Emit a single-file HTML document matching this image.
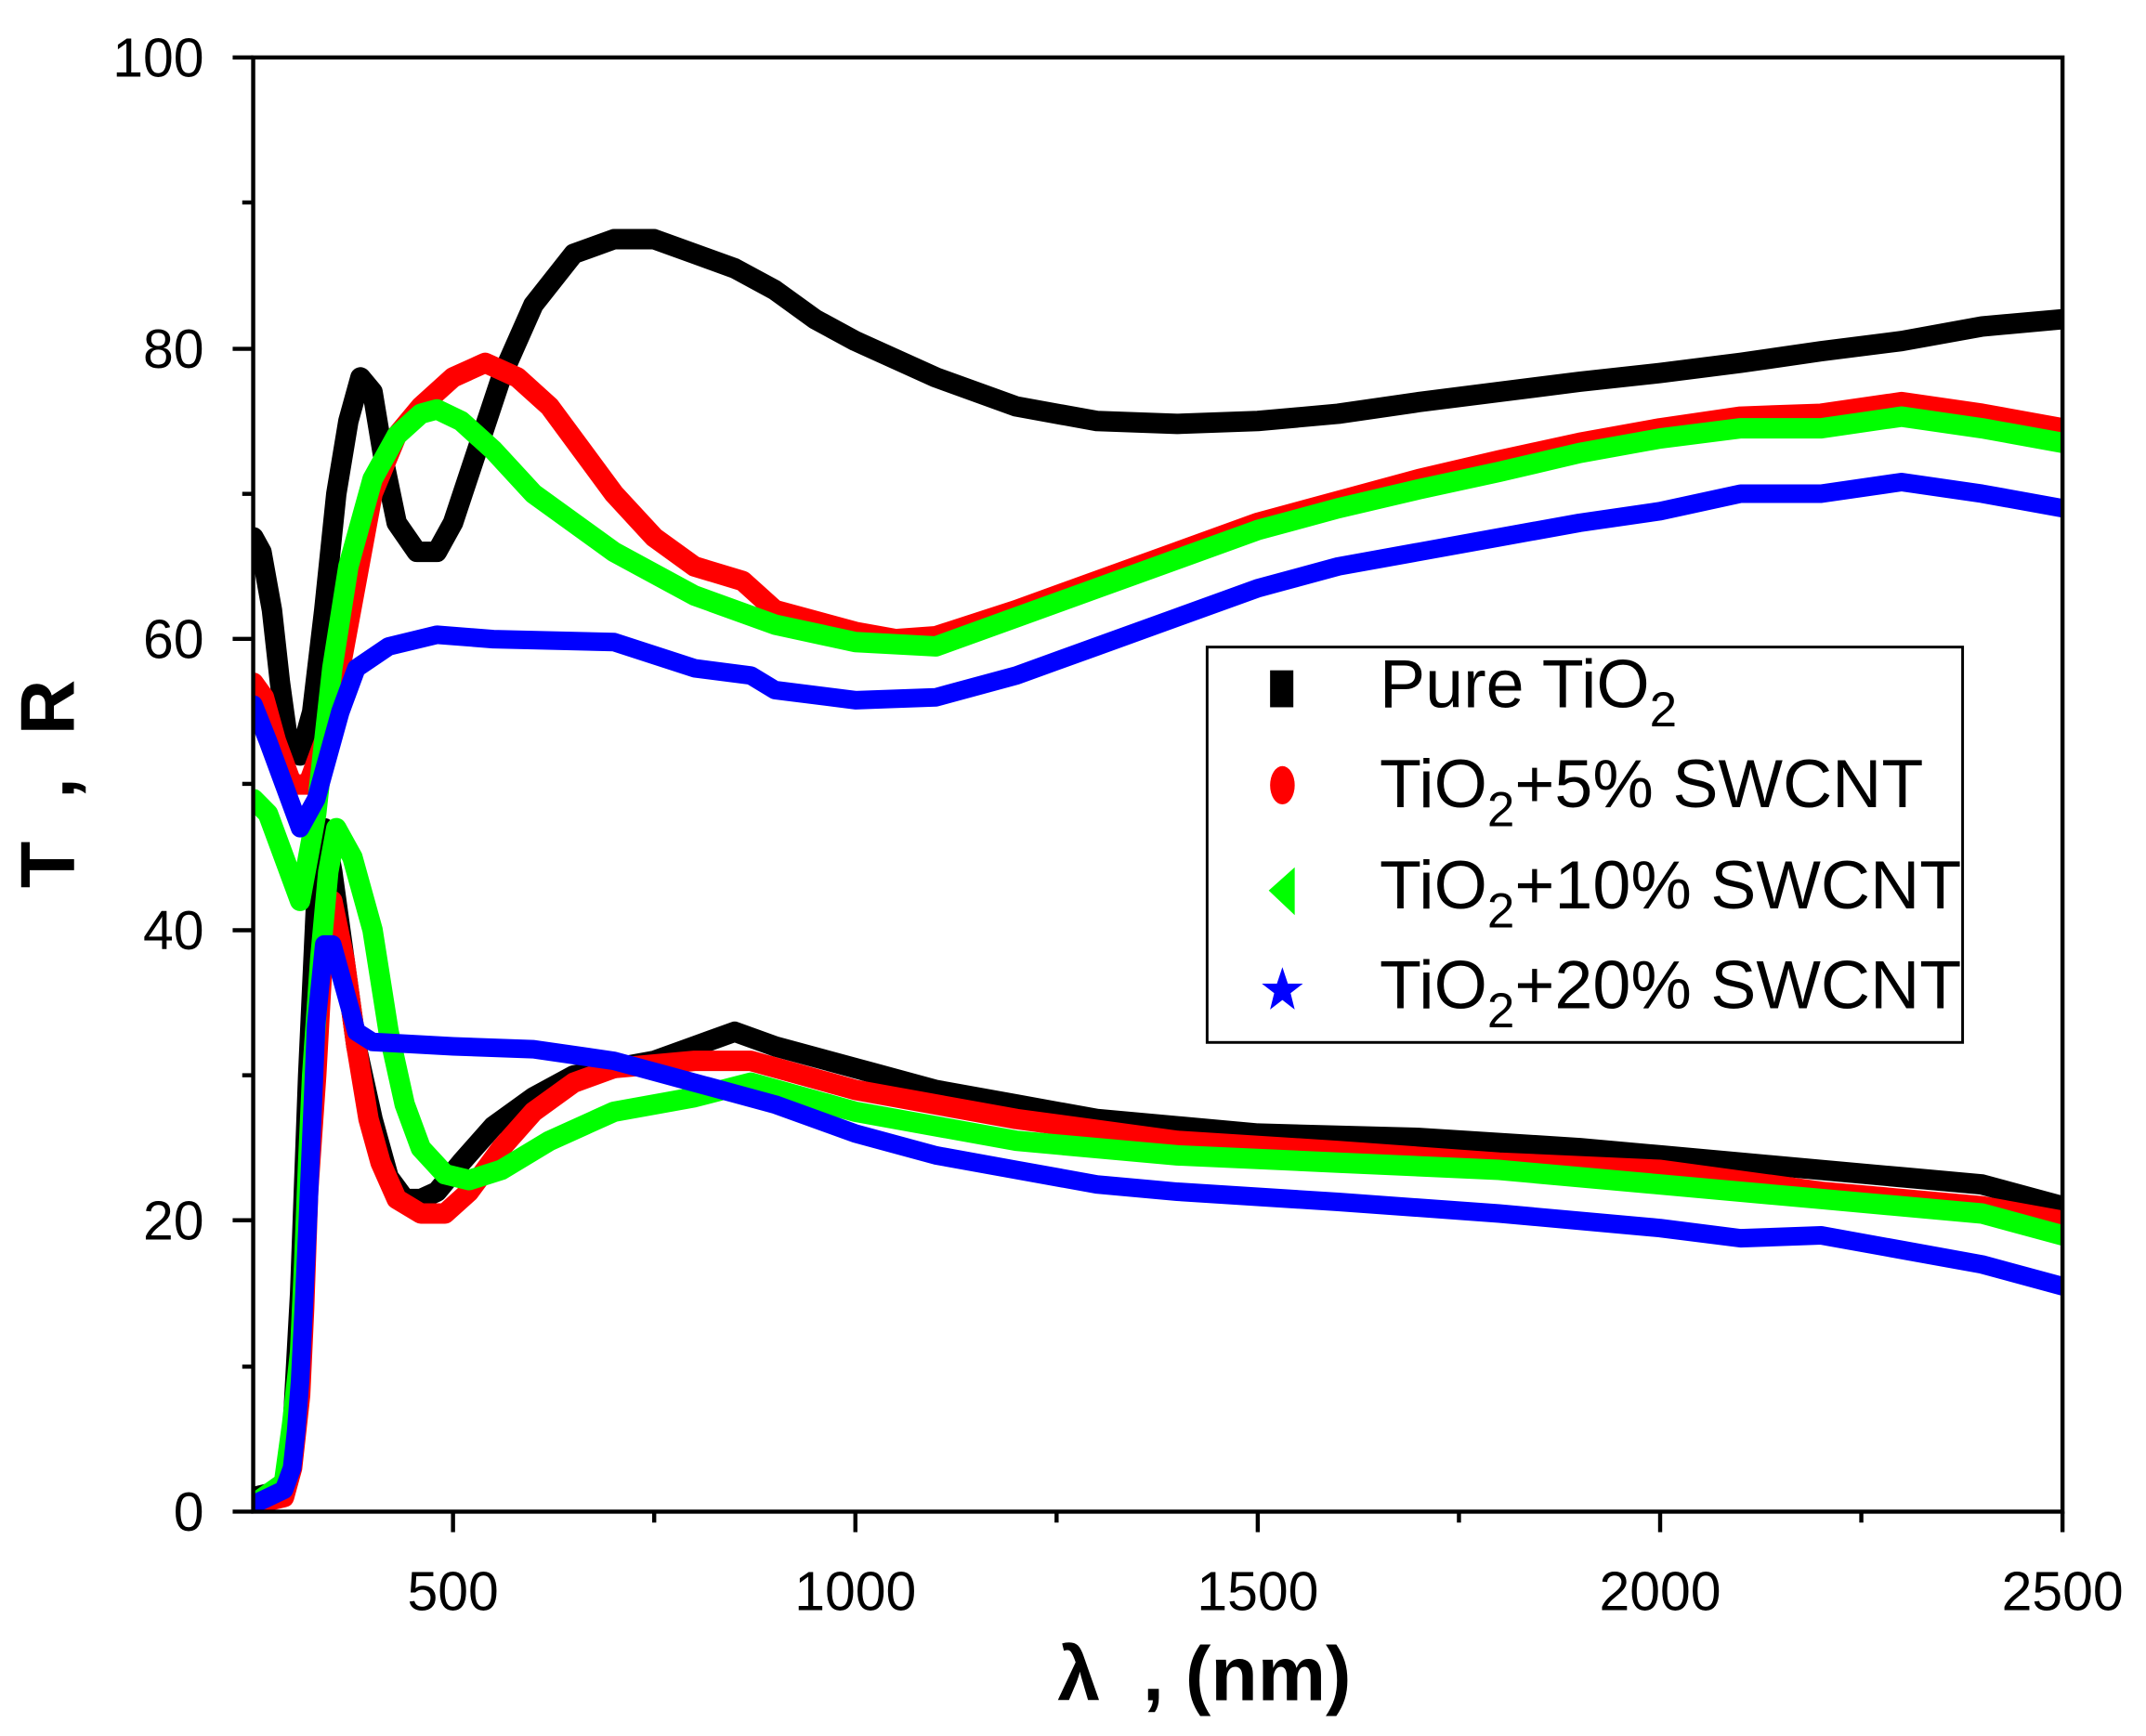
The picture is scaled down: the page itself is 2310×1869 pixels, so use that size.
<!DOCTYPE html>
<html><head><meta charset="utf-8"><style>
html,body{margin:0;padding:0;background:#fff;}
svg{display:block;}
text{font-family:"Liberation Sans",Arial,sans-serif;}
</style></head><body>
<svg width="2310" height="1869" viewBox="0 0 1568 1269" preserveAspectRatio="none" xmlns="http://www.w3.org/2000/svg">
<defs><clipPath id="c"><rect x="185" y="42" width="1322" height="1063"/></clipPath></defs>
<rect width="1568" height="1269" fill="#fff"/>
<g clip-path="url(#c)" fill="none" stroke-linejoin="round" stroke-linecap="round">
<g transform="matrix(0.588 0 0 -10.63 37 1105)">
<polyline vector-effect="non-scaling-stroke" stroke="#000" stroke-width="22" points="252,67 262,66 275,62 285,57 295,53 310,52 325,55 340,62 355,70 370,75 385,78 400,77 415,72 430,68 455,66 480,66 500,68 530,73 560,78 600,83 650,86.5 700,87.5 750,87.5 800,86.5 850,85.5 900,84 950,82 1000,80.5 1100,78 1200,76 1300,75 1400,74.8 1500,75 1600,75.5 1700,76.3 1800,77 1900,77.7 2000,78.3 2100,79 2200,79.8 2300,80.5 2400,81.5 2500,82"/>
<polyline vector-effect="non-scaling-stroke" stroke="#000" stroke-width="22" points="252,1 290,1.5 300,5 310,15 320,30 330,42 340,47 350,44 365,38 380,32 400,27 420,23 440,21.5 460,21.5 480,22 510,24 550,26.5 600,28.5 650,30 700,30.5 750,31 800,32 850,33 900,32 1000,30.5 1100,29 1200,28 1300,27 1400,26.5 1500,26 1700,25.7 1900,25 2000,24.5 2100,24 2200,23.5 2300,23 2400,22.5 2500,21"/>
<polyline vector-effect="non-scaling-stroke" stroke="#f00" stroke-width="22" points="252,57 265,56 280,53 300,50 320,50 340,53 360,58 380,64 400,70 430,74 460,76 500,78 540,79 580,78 620,76 660,73 700,70 750,67 800,65 860,64 900,62 1000,60.5 1050,60 1100,60.2 1200,62 1300,64 1400,66 1500,68 1600,69.5 1700,71 1800,72.3 1900,73.5 2000,74.5 2100,75.3 2200,75.5 2300,76.3 2400,75.5 2500,74.5"/>
<polyline vector-effect="non-scaling-stroke" stroke="#f00" stroke-width="22" points="252,0.5 290,1 300,3 310,8 315,14 320,22 330,30 340,40 350,42 365,38 380,32 395,27 410,24 430,21.5 460,20.5 490,20.5 520,22 560,25 600,27.5 650,29.5 700,30.5 800,31 870,31 1000,29 1200,27 1400,25.5 1600,24.8 1800,24 2000,23.5 2200,22 2400,21 2500,20"/>
<polyline vector-effect="non-scaling-stroke" stroke="#0f0" stroke-width="22" points="252,49 270,48 290,45 310,42 330,48 350,58 370,65 400,71 430,74 460,75.5 480,75.8 510,75 550,73 600,70 700,66 800,63 900,61 1000,59.8 1100,59.5 1200,61.5 1300,63.5 1400,65.5 1500,67.5 1600,69 1700,70.3 1800,71.5 1900,72.8 2000,73.8 2100,74.5 2200,74.5 2300,75.3 2400,74.5 2500,73.5"/>
<polyline vector-effect="non-scaling-stroke" stroke="#0f0" stroke-width="22" points="252,0.5 290,2 300,6 310,11 315,17 320,24 325,30 335,38 345,44 355,47 375,45 400,40 420,33 440,28 460,25 490,23.2 520,22.8 560,23.5 620,25.5 700,27.5 800,28.5 870,29.5 1000,27.5 1200,25.5 1400,24.5 1600,24 1800,23.5 2000,22.5 2200,21.5 2400,20.5 2500,19"/>
<polyline vector-effect="non-scaling-stroke" stroke="#00f" stroke-width="20" points="252,55.5 270,53 290,50 310,47 330,49 345,52 360,55 380,58 420,59.5 480,60.3 550,60 700,59.8 800,58 870,57.5 900,56.5 1000,55.8 1100,56 1200,57.5 1300,59.5 1400,61.5 1500,63.5 1600,65 1700,66 1800,67 1900,68 2000,68.8 2100,70 2200,70 2300,70.8 2400,70 2500,69"/>
<polyline vector-effect="non-scaling-stroke" stroke="#00f" stroke-width="20" points="252,0.5 290,1.5 300,3 305,5.5 310,9 315,14.5 320,20.5 325,27 330,33.5 340,39 350,39 365,36 380,33 400,32.3 500,32 600,31.8 700,31 800,29.5 900,28 1000,26 1100,24.5 1200,23.5 1300,22.5 1400,22 1600,21.3 1800,20.5 2000,19.5 2100,18.8 2200,19 2300,18 2400,17 2500,15.5"/>
</g></g>
<rect x="185" y="42" width="1322" height="1063" fill="none" stroke="#000" stroke-width="3"/>
<g stroke="#000" stroke-width="3">
<line x1="331" y1="1105" x2="331" y2="1120"/><line x1="625" y1="1105" x2="625" y2="1120"/><line x1="919" y1="1105" x2="919" y2="1120"/><line x1="1213" y1="1105" x2="1213" y2="1120"/><line x1="1507" y1="1105" x2="1507" y2="1120"/>
<line x1="478" y1="1105" x2="478" y2="1113"/><line x1="772" y1="1105" x2="772" y2="1113"/><line x1="1066" y1="1105" x2="1066" y2="1113"/><line x1="1360" y1="1105" x2="1360" y2="1113"/>
<line x1="170" y1="1105" x2="185" y2="1105"/><line x1="170" y1="892" x2="185" y2="892"/><line x1="170" y1="680" x2="185" y2="680"/><line x1="170" y1="467" x2="185" y2="467"/><line x1="170" y1="255" x2="185" y2="255"/><line x1="170" y1="42" x2="185" y2="42"/>
<line x1="177" y1="999" x2="185" y2="999"/><line x1="177" y1="786" x2="185" y2="786"/><line x1="177" y1="573" x2="185" y2="573"/><line x1="177" y1="361" x2="185" y2="361"/><line x1="177" y1="148" x2="185" y2="148"/>
</g>
<g font-size="40" text-anchor="middle">
<text x="331" y="1177">500</text><text x="625" y="1177">1000</text><text x="919" y="1177">1500</text><text x="1213" y="1177">2000</text><text x="1507" y="1177">2500</text>
</g>
<g font-size="40" text-anchor="end">
<text x="149" y="1119">0</text><text x="149" y="906">20</text><text x="149" y="694">40</text><text x="149" y="481">60</text><text x="149" y="269">80</text><text x="149" y="56">100</text>
</g>
<text x="880" y="1243" font-size="56" font-weight="bold" text-anchor="middle" xml:space="preserve">λ  , (nm)</text>
<text transform="translate(54 573) rotate(-90)" font-size="56" font-weight="bold" text-anchor="middle" xml:space="preserve">T  ,  R</text>
<rect x="882" y="473" width="552" height="289" fill="#fff" stroke="#000" stroke-width="2"/>
<rect x="928" y="490" width="17" height="27" fill="#000"/>
<ellipse cx="937" cy="574" rx="9" ry="14" fill="#f00"/>
<polygon points="946,634 946,669 927,651" fill="#0f0"/>
<polygon points="937,707 941,719 952,719 943,726 946,738 937,731 928,738 931,726 922,719 933,719" fill="#00f"/>
<g font-size="50">
<text x="1008" y="517">Pure TiO<tspan font-size="36" dy="14">2</tspan></text>
<text x="1008" y="590">TiO<tspan font-size="36" dy="14">2</tspan><tspan dy="-14">+5% SWCNT</tspan></text>
<text x="1008" y="664">TiO<tspan font-size="36" dy="14">2</tspan><tspan dy="-14">+10% SWCNT</tspan></text>
<text x="1008" y="737">TiO<tspan font-size="36" dy="14">2</tspan><tspan dy="-14">+20% SWCNT</tspan></text>
</g>
</svg>
</body></html>
